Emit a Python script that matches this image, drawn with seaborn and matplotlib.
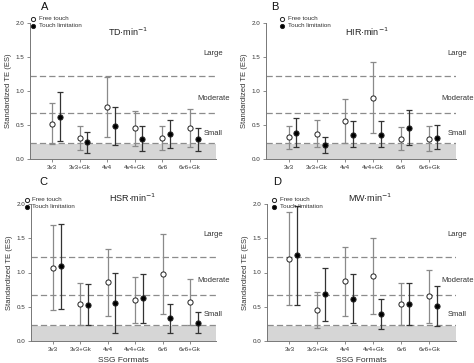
import numpy as np
import pandas as pd
import matplotlib
matplotlib.use('Agg')
import matplotlib.pyplot as plt
import seaborn as sns

# Форматы игр
formats = ['3v3', '3v3+Gk', '4v4', '4v4+Gk', '6v6', '6v6+Gk']
groups = ['Free touch', 'Touch limitation']
panel_letters = ['A', 'B', 'C', 'D']
panel_titles = ['TD', 'HIR', 'HSR', 'MW']

# Значения (среднее, нижняя и верхняя граница) для каждой панели
td_free = [0.52, 0.31, 0.77, 0.45, 0.31, 0.46]
td_free_lo = [0.22, 0.13, 0.33, 0.19, 0.13, 0.18]
td_free_hi = [0.82, 0.49, 1.21, 0.71, 0.49, 0.74]
td_lim = [0.62, 0.25, 0.48, 0.30, 0.37, 0.29]
td_lim_lo = [0.26, 0.09, 0.20, 0.12, 0.16, 0.12]
td_lim_hi = [0.98, 0.40, 0.76, 0.48, 0.58, 0.46]

hir_free = [0.32, 0.37, 0.56, 0.90, 0.30, 0.30]
hir_free_lo = [0.14, 0.17, 0.23, 0.38, 0.13, 0.12]
hir_free_hi = [0.49, 0.58, 0.88, 1.42, 0.47, 0.48]
hir_lim = [0.38, 0.21, 0.36, 0.36, 0.46, 0.31]
hir_lim_lo = [0.17, 0.09, 0.17, 0.17, 0.20, 0.14]
hir_lim_hi = [0.60, 0.33, 0.56, 0.56, 0.72, 0.50]

hsr_free = [1.07, 0.54, 0.86, 0.60, 0.98, 0.57]
hsr_free_lo = [0.45, 0.23, 0.37, 0.26, 0.40, 0.24]
hsr_free_hi = [1.69, 0.85, 1.35, 0.94, 1.56, 0.90]
hsr_lim = [1.09, 0.53, 0.55, 0.63, 0.34, 0.27]
hsr_lim_lo = [0.46, 0.23, 0.12, 0.27, 0.12, 0.12]
hsr_lim_hi = [1.71, 0.83, 0.99, 0.98, 0.54, 0.43]

mw_free = [1.20, 0.45, 0.87, 0.95, 0.54, 0.65]
mw_free_lo = [0.52, 0.19, 0.37, 0.39, 0.23, 0.27]
mw_free_hi = [1.88, 0.71, 1.37, 1.50, 0.85, 1.03]
mw_lim = [1.25, 0.68, 0.62, 0.39, 0.54, 0.51]
mw_lim_lo = [0.53, 0.29, 0.26, 0.17, 0.23, 0.22]
mw_lim_hi = [1.97, 1.07, 0.98, 0.61, 0.85, 0.80]

# Пороги величины эффекта
thresholds = [0.23, 0.67, 1.22]
threshold_labels = ['Small', 'Moderate', 'Large']
threshold_label_y = [0.38, 0.89, 1.55]

panels = [
    (td_free, td_free_lo, td_free_hi, td_lim, td_lim_lo, td_lim_hi),
    (hir_free, hir_free_lo, hir_free_hi, hir_lim, hir_lim_lo, hir_lim_hi),
    (hsr_free, hsr_free_lo, hsr_free_hi, hsr_lim, hsr_lim_lo, hsr_lim_hi),
    (mw_free, mw_free_lo, mw_free_hi, mw_lim, mw_lim_lo, mw_lim_hi),
]

sns.set_style('ticks')
plt.rcParams['font.family'] = ['Liberation Sans', 'DejaVu Sans']

fig = plt.figure(figsize=(4.74, 3.63), dpi=100)
# Положение осей [left, bottom, width, height]
rects = [
    [30 / 474, 1 - 159 / 363, 186 / 474, 136 / 363],
    [266 / 474, 1 - 159 / 363, 190 / 474, 136 / 363],
    [31 / 474, 1 - 341 / 363, 185 / 474, 137 / 363],
    [267 / 474, 1 - 341 / 363, 189 / 474, 137 / 363],
]
legend_x = [0.0, 0.07, -0.04, 0.02]
title_pos = [(2.75, 1.87), (2.8, 1.87), (2.9, 2.09), (2.9, 2.09)]
label_x = [5.85, 6.0, 5.85, 6.0]
letter_pos = [(45, 7), (275, 7), (43, 182), (277, 182)]

offsets = [0.0, 0.28]
fc_colors = ['white', 'black']
bar_colors = ['#8a8a8a', '#333333']
gray = '#777777'

for k, (vals, rect) in enumerate(zip(panels, rects)):
    ax = fig.add_axes(rect)
    x = np.arange(len(formats))
    # Серая зона тривиального эффекта
    ax.axhspan(0, 0.22, color='#d6d6d6', zorder=0, lw=0)
    for t in thresholds:
        ax.axhline(t, color='#8c8c8c', ls=(0, (5, 2.5)), lw=0.9, zorder=1)

    for g in range(2):
        mean = np.array(vals[3 * g])
        lo = np.array(vals[3 * g + 1])
        hi = np.array(vals[3 * g + 2])
        xs = x + offsets[g]
        ax.errorbar(xs, mean, yerr=[mean - lo, hi - mean], fmt='none',
                    ecolor=bar_colors[g], elinewidth=0.9, capsize=2.5,
                    capthick=0.9, zorder=2)
        df = pd.DataFrame({'x': xs, 'y': mean})
        sns.scatterplot(data=df, x='x', y='y', ax=ax, marker='o', s=14,
                        color=fc_colors[g], edgecolor='#222222', linewidth=0.7,
                        zorder=3, label=groups[g])

    ax.set_xlim(-0.8, 5.95)
    ax.set_ylim(0, 2.0)
    ax.set_xticks(x)
    ax.set_xticklabels(formats)
    ax.set_yticks([0.0, 0.5, 1.0, 1.5, 2.0])
    ax.set_yticklabels(['0.0', '0.5', '1.0', '1.5', '2.0'])
    ax.tick_params(axis='both', labelsize=4.5, colors=gray, labelcolor='#333333',
                   length=2, width=0.6, pad=2)
    ax.set_ylabel('Standardized TE (ES)', fontsize=5.5, color='#333333', labelpad=3)
    ax.set_xlabel('SSG Formats' if k >= 2 else '', fontsize=6, color='#333333', labelpad=4)
    sns.despine(ax=ax)
    ax.spines['left'].set_color(gray)
    ax.spines['bottom'].set_color(gray)
    ax.spines['left'].set_linewidth(0.7)
    ax.spines['bottom'].set_linewidth(0.7)

    for lab, ly in zip(threshold_labels, threshold_label_y):
        ax.text(label_x[k], ly, lab, fontsize=5.5, color='#333333',
                ha='center', va='center', clip_on=False)
    tx, ty = title_pos[k]
    ax.text(tx, ty, panel_titles[k] + '·min$^{-1}$', fontsize=6.5,
            color='#222222', ha='center', va='center')

    leg = ax.legend(loc='lower left', bbox_to_anchor=(legend_x[k], 0.96),
                    frameon=False, fontsize=4.5, handletextpad=0.4,
                    borderpad=0, labelspacing=0.3, markerscale=0.8,
                    handlelength=1.0, borderaxespad=0)
    for txt in leg.get_texts():
        txt.set_color('#333333')
    fig.text(letter_pos[k][0] / 474, 1 - letter_pos[k][1] / 363, panel_letters[k],
             fontsize=8, color='#111111', ha='center', va='center')

fig.savefig('out.png', dpi=100)
